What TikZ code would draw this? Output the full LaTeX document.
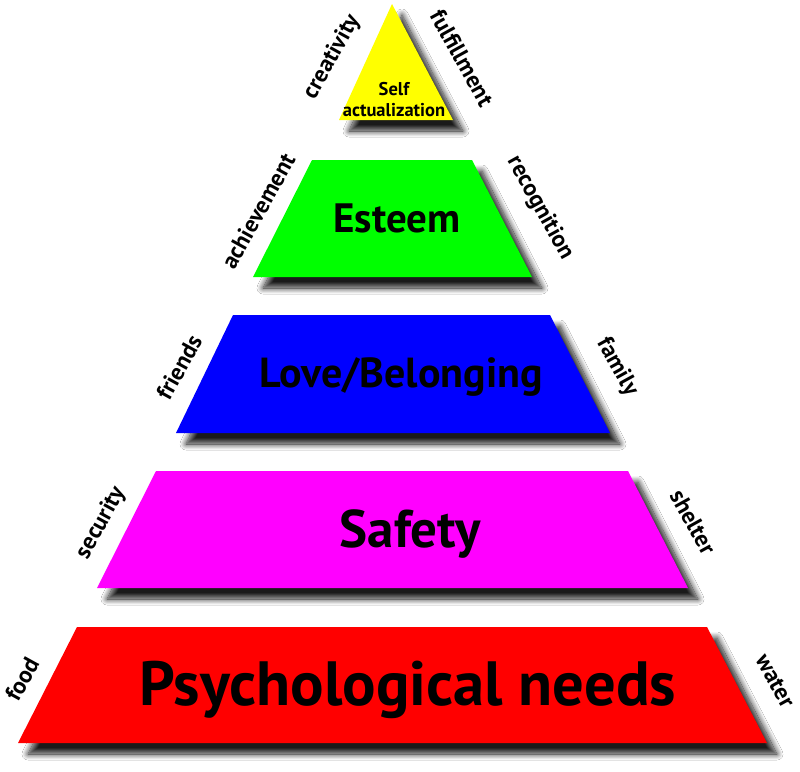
\documentclass[tikz,border=0pt]{standalone}
\usepackage{fontspec}
\setmainfont{PT Sans}
\usetikzlibrary{shadows.blur}
\begin{document}
\begin{tikzpicture}[x=1pt,y=-1pt,
  level/.style={blur shadow={shadow xshift=10pt,shadow yshift=-11pt,shadow blur radius=6pt,shadow blur steps=14,shadow opacity=90}},
  mainlbl/.style={anchor=base,inner sep=0pt,text=black},
  sidelbl/.style={inner sep=0pt,text=black,font=\bfseries\fontsize{23.5}{23.5}\selectfont}]
\useasboundingbox (0,0) rectangle (800,771);
\fill[white] (0,0) rectangle (800,771);
% levels
\path[level,fill={rgb,255:red,255;green,255;blue,0}] (392,4) -- (453,120) -- (339,120) -- cycle;
\path[level,fill={rgb,255:red,0;green,255;blue,0}] (312,160) -- (472,160) -- (532,277) -- (253,277) -- cycle;
\path[level,fill={rgb,255:red,0;green,0;blue,255}] (233,315) -- (550,315) -- (610,433) -- (176,433) -- cycle;
\path[level,fill={rgb,255:red,255;green,0;blue,255}] (156,471) -- (628,471) -- (688,588) -- (97,588) -- cycle;
\path[level,fill={rgb,255:red,255;green,0;blue,0}] (77,627) -- (707,627) -- (767,743) -- (18,743) -- cycle;
% main labels
\node[mainlbl,font=\bfseries\fontsize{18.5}{18.5}\selectfont] (self) at (394,95) {Self};
\node[mainlbl,font=\bfseries\fontsize{18.5}{18.5}\selectfont] (actual) at (394,116) {actualization};
\node[mainlbl,font=\bfseries\fontsize{41}{41}\selectfont] (esteem) at (397,232) {Esteem};
\node[mainlbl,font=\bfseries\fontsize{42}{42}\selectfont] (love) at (401,387) {Love/Belonging};
\node[mainlbl,font=\bfseries\fontsize{53}{53}\selectfont] (safety) at (410,547) {Safety};
\node[mainlbl,font=\bfseries\fontsize{62.5}{62.5}\selectfont] (phys) at (408,705) {Psychological needs};
% side labels
\node[sidelbl,rotate=61] (creat) at (332,57) {creativity};
\node[sidelbl,rotate=-61] (fulf) at (462,58) {fulfillment};
\node[sidelbl,rotate=61] (achv) at (258,211) {achievement};
\node[sidelbl,rotate=-61] (recog) at (540,208) {recognition};
\node[sidelbl,rotate=61] (friends) at (179,367) {friends};
\node[sidelbl,rotate=-61] (family) at (617,367) {family};
\node[sidelbl,rotate=61] (secur) at (101,523) {security};
\node[sidelbl,rotate=-61] (shelter) at (693,522) {shelter};
\node[sidelbl,rotate=61] (food) at (22,679) {food};
\node[sidelbl,rotate=-61] (water) at (775,681) {water};
\end{tikzpicture}
\end{document}
